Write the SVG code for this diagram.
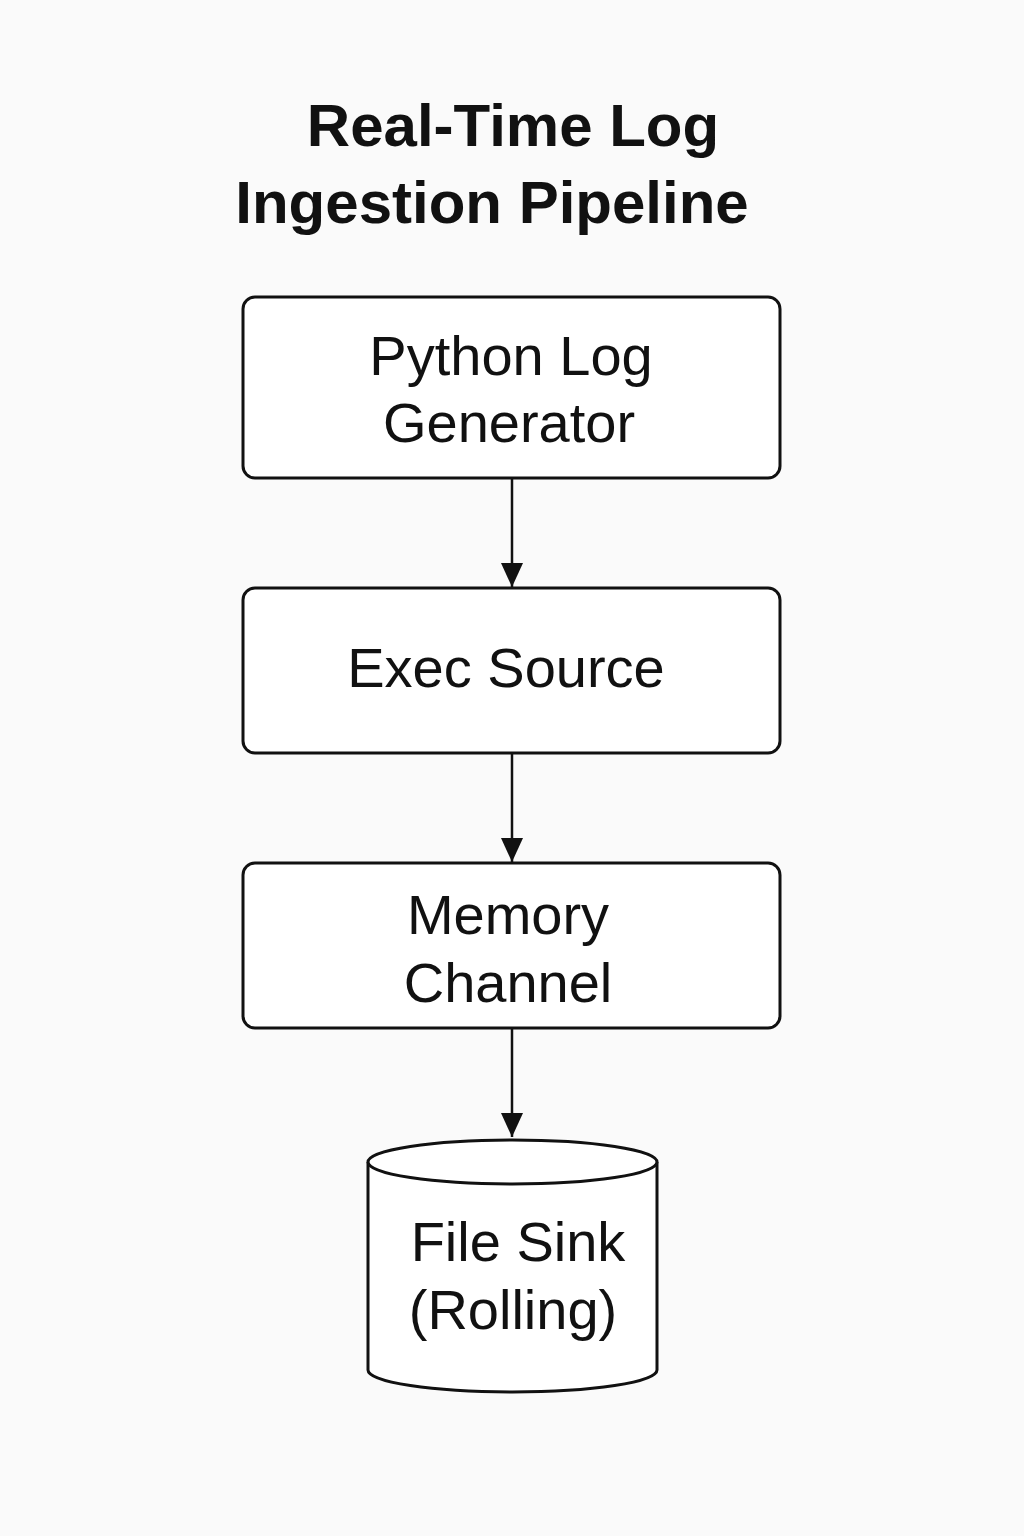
<svg xmlns="http://www.w3.org/2000/svg" width="1024" height="1536" viewBox="0 0 1024 1536">
<style>
.box{fill:#fff;stroke:#111;stroke-width:3}
.t{font-family:"Liberation Sans",Arial,sans-serif;font-size:56px;fill:#111;text-anchor:middle}
.h{font-family:"Liberation Sans",Arial,sans-serif;font-size:60px;font-weight:bold;fill:#111;text-anchor:middle}
.c{stroke:#111;stroke-width:2.5;fill:none}
</style>
<defs><marker id="a" markerWidth="10" markerHeight="10" refX="9" refY="5" orient="auto" markerUnits="userSpaceOnUse" viewBox="0 0 10 10"><path d="M0,0L10,5L0,10z" fill="#111"/></marker>
<marker id="ah" viewBox="0 0 24 22" refX="24" refY="11" markerWidth="24" markerHeight="22" orient="auto" markerUnits="userSpaceOnUse"><path d="M0,0L24,11L0,22z" fill="#111"/></marker></defs>
<rect width="1024" height="1536" fill="#fafafa"/>
<text class="h" x="513" y="146">Real-Time Log</text>
<text class="h" x="492" y="223">Ingestion Pipeline</text>
<g id="n1"><rect class="box" x="243" y="297" width="537" height="181" rx="12"/><text class="t" x="511" y="375">Python Log</text><text class="t" x="509" y="442">Generator</text></g>
<g id="n2"><rect class="box" x="243" y="588" width="537" height="165" rx="12"/><text class="t" x="506" y="687">Exec Source</text></g>
<g id="n3"><rect class="box" x="243" y="863" width="537" height="165" rx="12"/><text class="t" x="508" y="934">Memory</text><text class="t" x="508" y="1002">Channel</text></g>
<g id="n4"><path class="box" d="M368,1162 L368,1370 A144.5,22 0 0 0 657,1370 L657,1162"/><ellipse class="box" cx="512.5" cy="1162" rx="144.5" ry="22"/><text class="t" x="518" y="1261">File Sink</text><text class="t" x="513" y="1329">(Rolling)</text></g>
<g id="connectors">
<line class="c" x1="512" y1="478" x2="512" y2="587" marker-end="url(#ah)"/>
<line class="c" x1="512" y1="753" x2="512" y2="862" marker-end="url(#ah)"/>
<line class="c" x1="512" y1="1028" x2="512" y2="1137" marker-end="url(#ah)"/>
</g>
</svg>
